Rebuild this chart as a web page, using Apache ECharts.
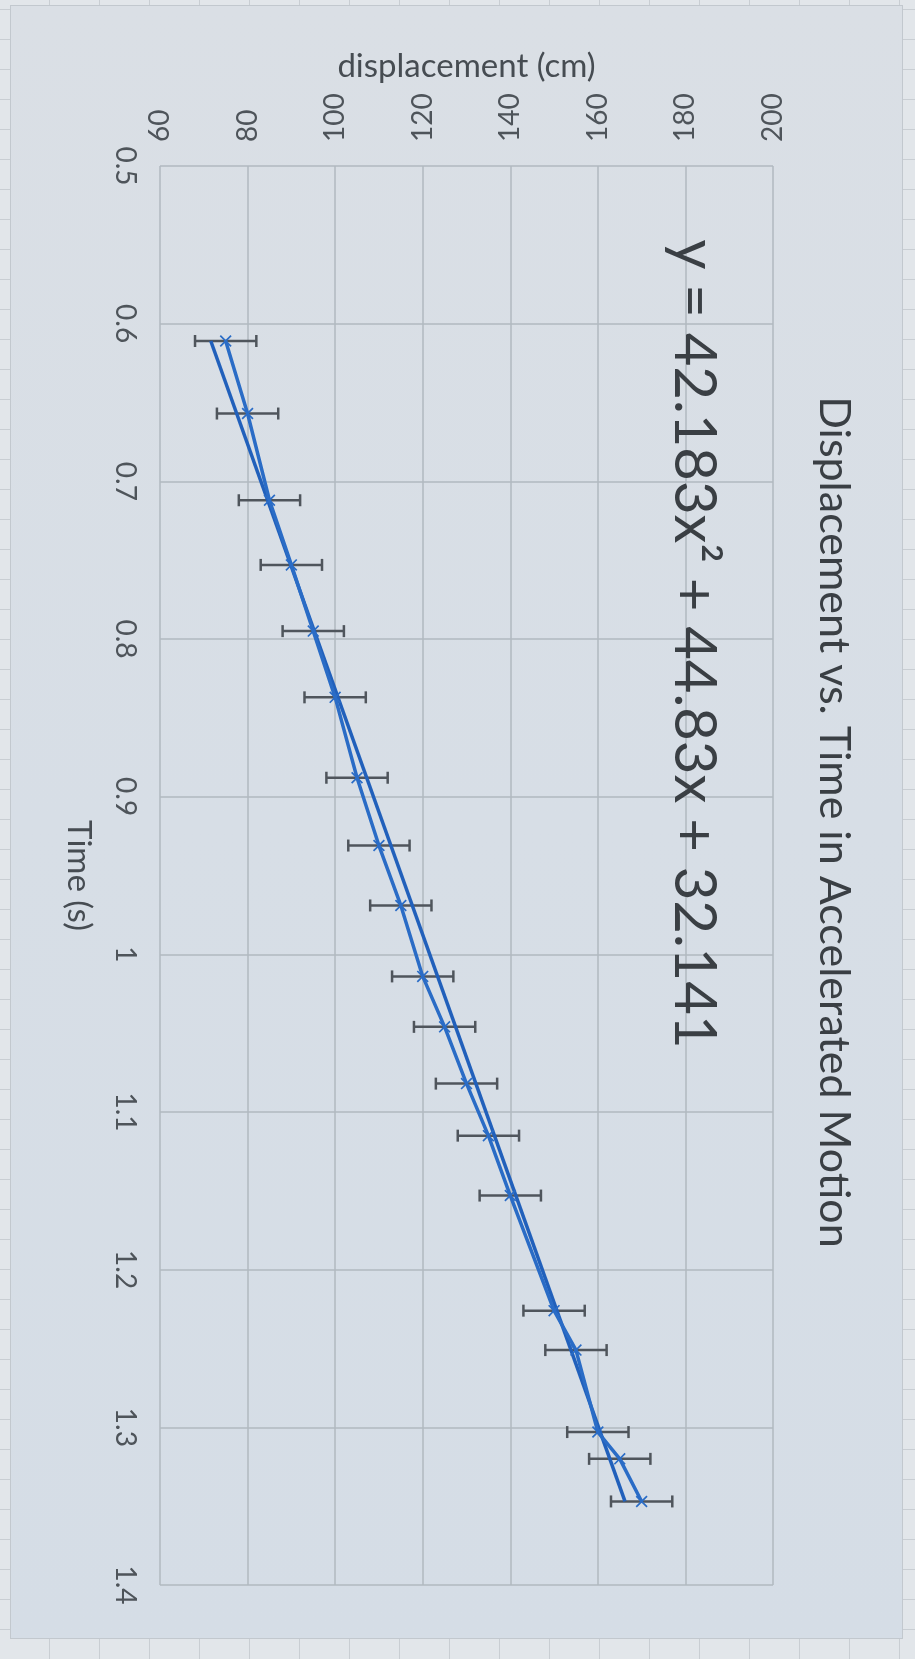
<!DOCTYPE html>
<html>
<head>
<meta charset="utf-8">
<script src="https://cdn.jsdelivr.net/npm/echarts@6/dist/echarts.min.js"></script>
<style>
  html, body { margin: 0; padding: 0; width: 915px; height: 1659px; overflow: hidden; }
  body {
    background-color: #e2e6ea;
    background-image:
      repeating-linear-gradient(90deg, transparent 0 49px, #c9ced3 49px 50px),
      repeating-linear-gradient(0deg, transparent 0 29px, #c9ced3 29px 30px);
    position: relative;
  }
  #area {
    position: absolute; left: 10px; top: 5px; width: 891px; height: 1632px;
    background: linear-gradient(180deg, #dadfe5 0%, #d7dee6 50%, #d5dde6 100%);
    border: 1px solid #c2c8ce;
  }
  #chart { position: absolute; left: 0; top: 0; width: 915px; height: 1659px; }
</style>
</head>
<body>
<div id="area"></div>
<div id="chart"></div>
<script>
// ---- data ----
const timeS = [0.611, 0.657, 0.712, 0.753, 0.795, 0.837, 0.888, 0.931, 0.969, 1.014,
               1.046, 1.082, 1.115, 1.153, 1.226, 1.251, 1.303, 1.320, 1.347];
const displacementCm = [75, 80, 85, 90, 95, 100, 105, 110, 115, 120,
                        125, 130, 135, 140, 150, 155, 160, 165, 170];
const errorCm = [7, 7, 7, 7, 7, 7, 7, 7, 7, 7, 7, 7, 7, 7, 7, 7, 7, 7, 7];
// linear trendline end points (as drawn)
const trendTimeS = [0.611, 1.347];
const trendDispCm = [71.6, 166.2];
// axis ticks
const displacementTicks = [60, 80, 100, 120, 140, 160, 180, 200];
const timeTicks = [0.5, 0.6, 0.7, 0.8, 0.9, 1.0, 1.1, 1.2, 1.3, 1.4];
const timeTickLabels = ['0.5', '0.6', '0.7', '0.8', '0.9', '1', '1.1', '1.2', '1.3', '1.4'];
const titleText = 'Displacement vs. Time in Accelerated Motion';
const equationText = 'y = 42.183x² + 44.83x + 32.141';

const FONT = 'Lato, "Open Sans", sans-serif';
const chart = echarts.init(document.getElementById('chart'));

const dataPts = timeS.map((t, i) => [displacementCm[i], t]);
const errPts = timeS.map((t, i) => [displacementCm[i] - errorCm[i], displacementCm[i] + errorCm[i], t]);
const trendPts = trendTimeS.map((t, i) => [trendDispCm[i], t]);

const xMarker = 'path://M0,1L1,0L5,4L9,0L10,1L6,5L10,9L9,10L5,6L1,10L0,9L4,5Z';

const baseGraphic = [
  {
    type: 'text', x: 834, y: 822, rotation: -Math.PI / 2, z: 100,
    style: { text: titleText, fontSize: 43, fontFamily: FONT, fill: '#3a3f44', align: 'center', verticalAlign: 'middle' }
  },
  {
    type: 'text', x: 694, y: 644, rotation: -Math.PI / 2, z: 100,
    style: { text: equationText, fontSize: 58, fontFamily: FONT, fill: '#3a3f44', align: 'center', verticalAlign: 'middle' }
  }
];

const option = {
  animation: false,
  textStyle: { fontFamily: FONT },
  grid: { left: 160, right: 142, top: 166, bottom: 74 },
  xAxis: {
    type: 'value',
    position: 'top',
    min: displacementTicks[0],
    max: displacementTicks[displacementTicks.length - 1],
    interval: displacementTicks[1] - displacementTicks[0],
    name: 'displacement (cm)',
    nameLocation: 'middle',
    nameGap: 83,
    nameTextStyle: { fontSize: 33, color: '#464c52', fontFamily: FONT },
    axisLine: { show: false },
    axisTick: { show: false },
    axisLabel: { rotate: -90, fontSize: 28, color: '#4e545a', margin: 24, fontFamily: FONT },
    splitLine: { show: true, lineStyle: { color: '#b1b8bf', width: 1.5 } }
  },
  yAxis: {
    type: 'value',
    inverse: true,
    min: timeTicks[0],
    max: timeTicks[timeTicks.length - 1],
    interval: 0.1,
    name: 'Time (s)',
    nameLocation: 'middle',
    nameRotate: -90,
    nameGap: 65,
    nameTextStyle: { fontSize: 33, color: '#464c52', fontFamily: FONT },
    axisLine: { show: false },
    axisTick: { show: false },
    axisLabel: { show: false },
    splitLine: { show: true, lineStyle: { color: '#b1b8bf', width: 1.5 } }
  },
  graphic: baseGraphic,
  series: [
    {
      type: 'custom',
      name: 'error',
      z: 2,
      encode: { x: [0, 1], y: 2 },
      data: errPts,
      renderItem: function (params, api) {
        const t = api.value(2);
        const lo = api.coord([api.value(0), t]);
        const hi = api.coord([api.value(1), t]);
        const cap = 6;
        const st = { stroke: '#4f555c', lineWidth: 2.5 };
        return {
          type: 'group',
          children: [
            { type: 'line', shape: { x1: lo[0], y1: lo[1], x2: hi[0], y2: hi[1] }, style: st },
            { type: 'line', shape: { x1: lo[0], y1: lo[1] - cap, x2: lo[0], y2: lo[1] + cap }, style: st },
            { type: 'line', shape: { x1: hi[0], y1: hi[1] - cap, x2: hi[0], y2: hi[1] + cap }, style: st }
          ]
        };
      }
    },
    {
      type: 'line',
      name: 'linear trend',
      z: 3,
      data: trendPts,
      showSymbol: false,
      symbol: 'none',
      lineStyle: { color: '#2160bb', width: 3.5 }
    },
    {
      type: 'line',
      name: 'displacement',
      z: 4,
      data: dataPts,
      symbol: xMarker,
      symbolSize: 12,
      itemStyle: { color: '#2a6cc6' },
      lineStyle: { color: '#2a6cc6', width: 3.5 }
    }
  ]
};
chart.setOption(option);

// time tick labels, rotated to read top-to-bottom, placed through the axis scale
const gridLeft = chart.convertToPixel({ xAxisIndex: 0 }, displacementTicks[0]);
const tickLabelGraphics = timeTicks.map((t, i) => ({
  type: 'text',
  x: gridLeft - 35,
  y: chart.convertToPixel({ yAxisIndex: 0 }, t),
  rotation: -Math.PI / 2,
  z: 50,
  style: { text: timeTickLabels[i], fontSize: 28, fontFamily: FONT, fill: '#4e545a', align: 'center', verticalAlign: 'middle' }
}));
chart.setOption({ graphic: baseGraphic.concat(tickLabelGraphics) });
</script>
</body>
</html>
